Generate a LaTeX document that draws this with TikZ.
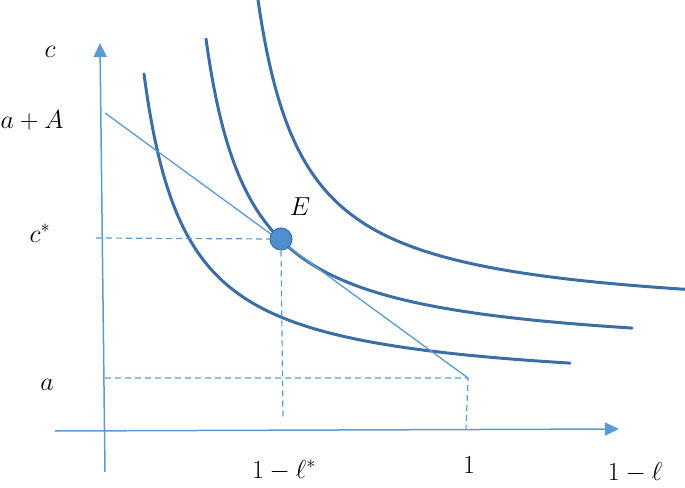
\RequirePackage{fix-cm}
\documentclass[tikz,border=0pt]{standalone}
\usetikzlibrary{arrows.meta}
\definecolor{axisblue}{HTML}{5B9BD5}
\definecolor{curveblue}{HTML}{3B6EA5}
\definecolor{pointblue}{HTML}{4F8FD0}
\begin{document}
\begin{tikzpicture}[x=1pt,y=-1pt,
  axis/.style={draw=axisblue,line width=1.5pt,-{Triangle[width=13pt,length=14pt]}},
  guide/.style={draw=axisblue,line width=1.2pt,dash pattern=on 6pt off 4pt},
  budget/.style={draw=axisblue,line width=1.3pt},
  indiff/.style={draw=curveblue,line width=3pt,line cap=round},
  lbl/.style={anchor=base,inner sep=0pt,font=\fontsize{26}{30}\selectfont},
  pt/.style={circle,fill=pointblue,draw=curveblue,line width=1pt,minimum size=22pt,inner sep=0pt}]
\useasboundingbox (0,0) rectangle (685,487);
% axes
\coordinate (yb) at (105,472);
\coordinate (yt) at (100,43);
\coordinate (xl) at (55,431);
\coordinate (xr) at (619,429);
\draw[axis] (yb) -- (yt);
\draw[axis] (xl) -- (xr);
% key points
\coordinate (aA) at (105,113);
\coordinate (one) at (468,378);
\coordinate (aax) at (105,378);
\coordinate (onex) at (466,430);
\coordinate (cax) at (96,238);
\coordinate (Ex) at (283,420);
% indifference curves
\draw[indiff] plot[domain=144:570,samples=200] (\x,{391.6-13339/(\x-102)});
\draw[indiff] plot[domain=206:632,samples=200] (\x,{357.9-14032/(\x-162)});
\draw[indiff] plot[domain=258:685,samples=200] (\x,{320.5-14750/(\x-212)});
% budget line and guides
\draw[budget] (aA) -- (one);
\draw[guide] (aax) -- (one) -- (onex);
\node[pt] (E) at (281,239) {};
\draw[guide] (cax) -- (E.west);
\draw[guide] (E.south) -- (Ex);
% labels
\node[lbl] (lc) at (50,57) {$c$};
\node[lbl] (laA) at (32,128) {$a+A$};
\node[lbl] (lcs) at (40,242) {$c^*$};
\node[lbl] (la) at (47,390) {$a$};
\node[lbl] (lE) at (300,215) {$E$};
\node[lbl] (lls) at (284,478) {$1-\ell^*$};
\node[lbl] (l1) at (469,473) {$1$};
\node[lbl] (ll) at (635,480) {$1-\ell$};
\end{tikzpicture}
\end{document}
